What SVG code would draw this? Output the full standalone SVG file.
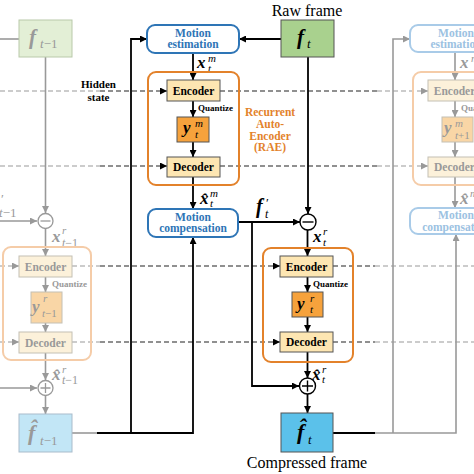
<svg xmlns="http://www.w3.org/2000/svg" width="474" height="474" viewBox="0 0 474 474">
<defs>
<marker id="ab" viewBox="0 0 10 10" refX="10" refY="5" markerWidth="7" markerHeight="7" markerUnits="userSpaceOnUse" orient="auto"><path d="M0,0 L10,5 L0,10 z" fill="#000"/></marker>
<marker id="ag" viewBox="0 0 10 10" refX="10" refY="5" markerWidth="7" markerHeight="7" markerUnits="userSpaceOnUse" orient="auto"><path d="M0,0 L10,5 L0,10 z" fill="#999"/></marker>
<style>
.ln{stroke:#000;stroke-width:1.8;fill:none}
.lg{stroke:#999;stroke-width:1.6;fill:none}
.dk{stroke:#222;stroke-width:1.2;stroke-dasharray:5 3;fill:none}
.dg{stroke:#999;stroke-width:1.2;stroke-dasharray:5 3;fill:none}
.t{font-family:'Liberation Serif','Times New Roman',serif;font-weight:bold}
.lab{font-family:'Liberation Serif','Times New Roman',serif;font-size:16px}
.m{font-family:'Liberation Serif','Times New Roman',serif;font-style:italic;font-weight:bold}
.s{font-style:italic;font-weight:normal}
.u{font-style:normal;font-weight:normal}
.cod{fill:#fde6b2;stroke:#555;stroke-width:1}
.codf{fill:#fcf1da;stroke:#c4c0b4;stroke-width:1}
.yb{fill:#f6a23c;stroke:#555;stroke-width:1}
.ybf{fill:#f9d6a6;stroke:#c4c0b4;stroke-width:1}
.rae{fill:none;stroke:#e3822b;stroke-width:2}
.raef{fill:none;stroke:#f5cca8;stroke-width:2}
.me{fill:#fff;stroke:#2e75b6;stroke-width:2}
.mef{fill:#fff;stroke:#a9cbe8;stroke-width:2}
.bt{fill:#2e75b6}
.btf{fill:#9cc2e2}
.gt{fill:#999}
</style>
</defs>

<g id="connectors">
<path class="dg" d="M0,91 H100"/>
<path class="dk" d="M100,91 H167" marker-end="url(#ab)"/>
<path class="dk" d="M220,91 H377"/>
<path class="dg" d="M377,91 H428" marker-end="url(#ag)"/>
<path class="dg" d="M0,166 H100"/>
<path class="dk" d="M100,166 H167" marker-end="url(#ab)"/>
<path class="dk" d="M220,166 H377"/>
<path class="dg" d="M377,166 H428" marker-end="url(#ag)"/>
<path class="dg" d="M0,266 H19" marker-end="url(#ag)"/>
<path class="dg" d="M72,266 H100"/>
<path class="dk" d="M100,266 H280" marker-end="url(#ab)"/>
<path class="dk" d="M333,266 H375"/>
<path class="dg" d="M375,266 H474"/>
<path class="dg" d="M0,342 H19" marker-end="url(#ag)"/>
<path class="dg" d="M72,342 H100"/>
<path class="dk" d="M100,342 H280" marker-end="url(#ab)"/>
<path class="dk" d="M333,342 H375"/>
<path class="dg" d="M375,342 H474"/>

<path class="lg" d="M0,39 H19"/>
<path class="lg" d="M45.5,57 V213" marker-end="url(#ag)"/>
<path class="lg" d="M0,221 H37" marker-end="url(#ag)"/>
<path class="lg" d="M45.5,229 V256" marker-end="url(#ag)"/>
<path class="lg" d="M45.5,277 V292" marker-end="url(#ag)"/>
<path class="lg" d="M45.5,323 V332" marker-end="url(#ag)"/>
<path class="lg" d="M45.5,353 V380" marker-end="url(#ag)"/>
<path class="lg" d="M0,388 H37" marker-end="url(#ag)"/>
<path class="lg" d="M45.5,396 V414" marker-end="url(#ag)"/>
<path class="lg" d="M72,433 H97"/>

<path class="ln" d="M97,433 H193 V237" marker-end="url(#ab)"/>
<path class="ln" d="M131,433 V39 H147" marker-end="url(#ab)"/>
<path class="ln" d="M281,39 H239" marker-end="url(#ab)"/>
<path class="ln" d="M308,57 V214" marker-end="url(#ab)"/>
<path class="ln" d="M193,53 V80" marker-end="url(#ab)"/>
<path class="ln" d="M193,101 V117" marker-end="url(#ab)"/>
<path class="ln" d="M193,142 V157" marker-end="url(#ab)"/>
<path class="ln" d="M193,177 V209" marker-end="url(#ab)"/>
<path class="ln" d="M238,222 H300" marker-end="url(#ab)"/>
<path class="ln" d="M252,222 V386 H299" marker-end="url(#ab)"/>
<path class="ln" d="M307.5,230 V256" marker-end="url(#ab)"/>
<path class="ln" d="M307.5,277 V292" marker-end="url(#ab)"/>
<path class="ln" d="M307.5,317 V332" marker-end="url(#ab)"/>
<path class="ln" d="M307.5,352 V378" marker-end="url(#ab)"/>
<path class="ln" d="M307.5,394 V413" marker-end="url(#ab)"/>
<path class="ln" d="M333,433 H375"/>

<path class="lg" d="M375,433 H456 V234" marker-end="url(#ag)"/>
<path class="lg" d="M393,433 V39 H410" marker-end="url(#ag)"/>
<path class="lg" d="M455,52 V80" marker-end="url(#ag)"/>
<path class="lg" d="M455,101 V117" marker-end="url(#ag)"/>
<path class="lg" d="M455,142 V157" marker-end="url(#ag)"/>
<path class="lg" d="M455,177 V208" marker-end="url(#ag)"/>
</g>

<g id="labels">
<text class="t" x="98.5" y="88" font-size="11" text-anchor="middle">Hidden</text>
<text class="t" x="98.5" y="101" font-size="11" text-anchor="middle">state</text>
<text class="lab" x="307" y="16" text-anchor="middle">Raw frame</text>
<text class="lab" x="307" y="468" text-anchor="middle">Compressed frame</text>
<text class="m" x="197" y="68" font-size="17">x<tspan class="s" font-size="11" x="208" y="62">m</tspan><tspan class="s" font-size="11" x="208" y="72">t</tspan></text>
<text class="m" x="200" y="204" font-size="17">x̂<tspan class="s" font-size="11" x="210" y="197">m</tspan><tspan class="s" font-size="11" x="210" y="207">t</tspan></text>
<text class="m" x="256" y="213" font-size="20">f<tspan class="u" font-size="13" x="266" y="207">′</tspan><tspan class="s" font-size="12" x="265" y="218">t</tspan></text>
<text class="m" x="313" y="242" font-size="17">x<tspan class="s" font-size="11" x="323" y="235">r</tspan><tspan class="s" font-size="11" x="323" y="246">t</tspan></text>
<text class="m" x="312" y="380" font-size="17">x̂<tspan class="s" font-size="11" x="322" y="373">r</tspan><tspan class="s" font-size="11" x="322" y="383">t</tspan></text>
<text class="m gt" x="-12" y="213" font-size="20">f<tspan class="u" font-size="13" x="1" y="203">′</tspan><tspan class="s" font-size="13" x="-1" y="217">t</tspan><tspan class="u" font-size="13">−1</tspan></text>
<text class="m gt" x="52" y="242" font-size="17">x<tspan class="s" font-size="11" x="62" y="234">r</tspan><tspan class="s" font-size="12" x="62" y="247">t</tspan><tspan class="u" font-size="12">−1</tspan></text>
<text class="m gt" x="52" y="380" font-size="17">x̂<tspan class="s" font-size="11" x="62" y="373">r</tspan><tspan class="s" font-size="12" x="62" y="384">t</tspan><tspan class="u" font-size="12">−1</tspan></text>
<text class="m gt" x="460" y="68" font-size="17">x<tspan class="s" font-size="11" x="471" y="62">m</tspan></text>
<text class="m gt" x="460" y="204" font-size="17">x̂<tspan class="s" font-size="11" x="470" y="197">m</tspan></text>
</g>

<g id="f_prev">
<rect x="19" y="20" width="53" height="37" fill="#e3efd6" stroke="#b9c9aa" stroke-width="1"/>
<text class="m gt" x="29" y="44" font-size="21">f<tspan class="s" font-size="13" x="40" y="48">t</tspan><tspan class="u" font-size="13">−1</tspan></text>
</g>

<g id="rae_prev">
<rect class="raef" x="3" y="247" width="88" height="113" rx="8"/>
<rect class="codf" x="19" y="256" width="53" height="21"/>
<text class="t gt" x="45.5" y="270.5" font-size="11.5" text-anchor="middle">Encoder</text>
<text class="t gt" x="52" y="287" font-size="9">Quantize</text>
<rect class="ybf" x="31" y="292" width="31" height="31"/>
<text class="m gt" x="32" y="312" font-size="17">y<tspan class="s" font-size="11" x="43" y="302">r</tspan><tspan class="s" font-size="11" x="42" y="317">t</tspan><tspan class="u" font-size="11">−1</tspan></text>
<rect class="codf" x="19" y="332" width="53" height="21"/>
<text class="t gt" x="45.5" y="346.5" font-size="11.5" text-anchor="middle">Decoder</text>
</g>

<g id="minus_prev">
<circle cx="45.5" cy="221" r="7.5" fill="#fff" stroke="#999" stroke-width="1.3"/>
<path d="M40.5,221 H50.5" stroke="#999" stroke-width="1.3"/>
</g>
<g id="plus_prev">
<circle cx="45.5" cy="388" r="7.5" fill="#fff" stroke="#999" stroke-width="1.3"/>
<path d="M40.5,388 H50.5 M45.5,383 V393" stroke="#999" stroke-width="1.3"/>
</g>
<g id="fhat_prev">
<rect x="19" y="414" width="53" height="38" fill="#c2e6f6" stroke="#a9bccb" stroke-width="1"/>
<text class="m gt" x="28" y="440" font-size="22">f̂<tspan class="s" font-size="13" x="40" y="445">t</tspan><tspan class="u" font-size="13">−1</tspan></text>
</g>

<g id="f_t">
<rect x="281" y="20" width="53" height="37" fill="#a9d18e" stroke="#555" stroke-width="1"/>
<text class="m" x="297" y="44" font-size="21">f<tspan class="s" font-size="13" x="307" y="48">t</tspan></text>
</g>

<g id="motion_estimation">
<rect class="me" x="147" y="25" width="92" height="28" rx="8"/>
<text class="t bt" x="193" y="36.5" font-size="11.5" text-anchor="middle">Motion</text>
<text class="t bt" x="193" y="48" font-size="11.5" text-anchor="middle">estimation</text>
</g>

<g id="rae_motion">
<rect class="rae" x="148" y="72" width="91" height="113" rx="8"/>
<rect class="cod" x="167" y="80" width="53" height="21"/>
<text class="t" x="193.5" y="94.5" font-size="11.5" text-anchor="middle">Encoder</text>
<text class="t" x="198" y="111" font-size="9">Quantize</text>
<rect class="yb" x="177" y="117" width="32" height="25"/>
<text class="m" x="183" y="133" font-size="17">y<tspan class="s" font-size="11" x="195" y="127">m</tspan><tspan class="s" font-size="11" x="195" y="138">t</tspan></text>
<rect class="cod" x="167" y="157" width="53" height="20"/>
<text class="t" x="193.5" y="171" font-size="11.5" text-anchor="middle">Decoder</text>
<text class="t" x="270" y="116" font-size="11.5" fill="#e3822b" text-anchor="middle">Recurrent</text>
<text class="t" x="270" y="127.5" font-size="11.5" fill="#e3822b" text-anchor="middle">Auto-</text>
<text class="t" x="270" y="139.5" font-size="11.5" fill="#e3822b" text-anchor="middle">Encoder</text>
<text class="t" x="270" y="151" font-size="11.5" fill="#e3822b" text-anchor="middle">(RAE)</text>
</g>

<g id="motion_compensation">
<rect class="me" x="148" y="209" width="90" height="28" rx="8"/>
<text class="t bt" x="193" y="220.5" font-size="11.5" text-anchor="middle">Motion</text>
<text class="t bt" x="193" y="232" font-size="11.5" text-anchor="middle">compensation</text>
</g>

<g id="minus_t">
<circle cx="308" cy="222" r="8" fill="#fff" stroke="#000" stroke-width="1.4"/>
<path d="M302.5,222 H313.5" stroke="#000" stroke-width="1.4"/>
</g>

<g id="rae_residual">
<rect class="rae" x="263" y="248" width="90" height="114" rx="8"/>
<rect class="cod" x="280" y="256" width="53" height="21"/>
<text class="t" x="306.5" y="270.5" font-size="11.5" text-anchor="middle">Encoder</text>
<text class="t" x="313" y="287" font-size="9">Quantize</text>
<rect class="yb" x="292" y="292" width="31" height="25"/>
<text class="m" x="297" y="309" font-size="17">y<tspan class="s" font-size="11" x="310" y="302">r</tspan><tspan class="s" font-size="11" x="310" y="313">t</tspan></text>
<rect class="cod" x="280" y="332" width="53" height="20"/>
<text class="t" x="306.5" y="346" font-size="11.5" text-anchor="middle">Decoder</text>
</g>

<g id="plus_t">
<circle cx="307.5" cy="386" r="8" fill="#fff" stroke="#000" stroke-width="1.4"/>
<path d="M302,386 H313 M307.5,380.5 V391.5" stroke="#000" stroke-width="1.4"/>
</g>

<g id="fhat_t">
<rect x="281" y="413" width="52" height="39" fill="#5bc1ea" stroke="#555" stroke-width="1"/>
<text class="m" x="297" y="439" font-size="22">f̂<tspan class="s" font-size="13" x="308" y="444">t</tspan></text>
</g>

<g id="motion_estimation_next">
<rect class="mef" x="410" y="25" width="92" height="27" rx="8"/>
<text class="t btf" x="456" y="36.5" font-size="11.5" text-anchor="middle">Motion</text>
<text class="t btf" x="456" y="48" font-size="11.5" text-anchor="middle">estimation</text>
</g>

<g id="rae_next">
<rect class="raef" x="413" y="72" width="91" height="113" rx="8"/>
<rect class="codf" x="428" y="80" width="53" height="21"/>
<text class="t gt" x="454.5" y="94.5" font-size="11.5" text-anchor="middle">Encoder</text>
<text class="t gt" x="461" y="111" font-size="9">Quantize</text>
<rect class="ybf" x="442" y="117" width="31" height="25"/>
<text class="m gt" x="444" y="133" font-size="17">y<tspan class="s" font-size="11" x="455" y="127">m</tspan><tspan class="s" font-size="11" x="455" y="139">t</tspan><tspan class="u" font-size="11">+1</tspan></text>
<rect class="codf" x="428" y="157" width="53" height="20"/>
<text class="t gt" x="454.5" y="171" font-size="11.5" text-anchor="middle">Decoder</text>
</g>

<g id="motion_compensation_next">
<rect class="mef" x="410" y="208" width="92" height="26" rx="8"/>
<text class="t btf" x="456" y="219" font-size="11.5" text-anchor="middle">Motion</text>
<text class="t btf" x="456" y="230.5" font-size="11.5" text-anchor="middle">compensation</text>
</g>
</svg>
